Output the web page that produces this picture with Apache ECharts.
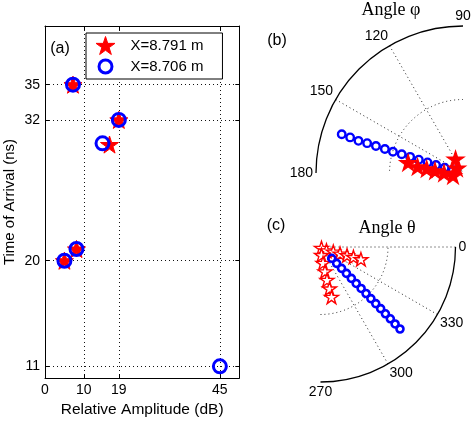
<!DOCTYPE html>
<html><head><meta charset="utf-8">
<script src="https://cdn.jsdelivr.net/npm/echarts@6/dist/echarts.min.js"></script>
<style>html,body{margin:0;padding:0;background:#fff}#c{width:474px;height:423px}</style>
</head><body><div id="c"></div>
<script>
// ---- panel (a) data ----
const xTicks = [0, 10, 19, 45];
const yTicks = [11, 20, 32, 35];
const starA = [[7.2, 35], [19, 32], [16.6, 29.9], [5, 20], [8.1, 21]];
const circA = [[7.2, 35], [19, 32], [14.8, 30], [5, 20], [8.1, 21], [45, 11]];
const seriesNames = ['X=8.791 m', 'X=8.706 m'];
// ---- panel (b) angle phi data (radius normalised, angle in degrees) ----
const phiTicks = [90, 120, 150, 180];
const circPhiR = [0.866, 0.805, 0.744, 0.683, 0.620, 0.556, 0.498, 0.436, 0.376, 0.314, 0.252, 0.191, 0.130, 0.072];
const circPhiA = [162.3, 162.5, 162.9, 162.7, 162.8, 162.9, 163.1, 163.0, 163.0, 163.2, 163.4, 163.6, 164.0, 165.0];
const starPhiR = [0.380, 0.312, 0.249, 0.191, 0.129, 0.070, 0.108, 0.053];
const starPhiA = [169.2, 172.1, 173.2, 175.5, 180.0, 194.0, 118.0, 140.0];
// ---- panel (c) angle theta data ----
const thetaTicks = [270, 300, 330, 360];
const circThetaR = [0.118, 0.170, 0.222, 0.274, 0.326, 0.378, 0.430, 0.482, 0.534, 0.586, 0.638, 0.690, 0.742, 0.794, 0.846];
const circThetaA = [314.7, 314.6, 314.6, 314.5, 314.5, 314.4, 314.4, 314.4, 314.3, 314.3, 314.3, 314.2, 314.2, 314.1, 314.1];
const starThetaR = [0.01, 0.051, 0.101, 0.153, 0.206, 0.255, 0.313, 0.060, 0.120, 0.184, 0.249, 0.315, 0.379];
const starThetaA = [315, 329.7, 339.8, 341.0, 342.6, 343.1, 343.1, 277.0, 279.0, 280.4, 281.1, 282.2, 282.4];

const SANS = 'Liberation Sans, Arial, sans-serif';
const SERIF = 'Liberation Serif, Times New Roman, serif';
const RED = '#ff0000', BLUE = '#0000ff';
const STAR = 'path://M50,0 L61.2,34.5 L97.6,34.5 L68.2,55.9 L79.4,90.5 L50,69.1 L20.6,90.5 L31.8,55.9 L2.4,34.5 L38.8,34.5 Z';
const CIRC_ICON = 'path://M0,0 M100,100 M14,50 A36,36 0 1 1 86,50 A36,36 0 1 1 14,50 Z';
const zip = (r, a) => r.map((v, i) => [v, a[i]]);
const dotted = { color: '#111', type: [1, 3], width: 1 };

const chart = echarts.init(document.getElementById('c'));
const boxAxis = (extra) => Object.assign({
  axisLine: { show: true, onZero: false, lineStyle: { color: '#000', width: 1 } },
  axisLabel: { show: false }, splitLine: { show: false }
}, extra);

chart.setOption({
  animation: false,
  backgroundColor: '#fff',
  textStyle: { fontFamily: SANS, color: '#000' },
  grid: [{ left: 45, top: 26, width: 194.3, height: 356.7, containLabel: false }],
  xAxis: [
    {
      gridIndex: 0, type: 'value', min: 0, max: 50, position: 'bottom',
      name: 'Relative Amplitude (dB)', nameLocation: 'middle', nameGap: 21,
      nameTextStyle: { fontSize: 15.5, color: '#000', fontFamily: SANS },
      axisLine: { show: true, onZero: false, lineStyle: { color: '#000', width: 1 } },
      axisTick: { show: true, inside: true, length: 4, customValues: xTicks, lineStyle: { color: '#000' } },
      axisLabel: { customValues: xTicks, color: '#000', fontSize: 14, margin: 5, fontFamily: SANS },
      splitLine: { show: true, lineStyle: dotted }
    },
    boxAxis({ gridIndex: 0, type: 'value', min: 0, max: 50, position: 'top',
      axisTick: { show: true, inside: true, length: 4, customValues: xTicks, lineStyle: { color: '#000' } } })
  ],
  yAxis: [
    {
      gridIndex: 0, type: 'value', min: 10, max: 40, position: 'left',
      name: 'Time of Arrival (ns)', nameLocation: 'middle', nameGap: 28,
      nameTextStyle: { fontSize: 15, color: '#000', fontFamily: SANS },
      axisLine: { show: true, onZero: false, lineStyle: { color: '#000', width: 1 } },
      axisTick: { show: true, inside: true, length: 4, customValues: yTicks, lineStyle: { color: '#000' } },
      axisLabel: { customValues: yTicks, color: '#000', fontSize: 14, margin: 5, fontFamily: SANS },
      splitLine: { show: true, lineStyle: dotted }
    },
    boxAxis({ gridIndex: 0, type: 'value', min: 10, max: 40, position: 'right',
      axisTick: { show: true, inside: true, length: 4, customValues: yTicks, lineStyle: { color: '#000' } } })
  ],
  polar: [
    { center: [463, 173], radius: 147 },
    { center: [320.5, 247], radius: 135 }
  ],
  angleAxis: [
    {
      polarIndex: 0, type: 'value', min: 90, max: 180, interval: 30,
      startAngle: 90, endAngle: 180, clockwise: false,
      axisLine: { show: true, lineStyle: { color: '#000', width: 1.3 } },
      axisTick: { show: false },
      axisLabel: { color: '#000', fontSize: 14, margin: 3, fontFamily: SANS },
      splitLine: { show: true, lineStyle: { color: ['rgba(0,0,0,0)', '#222', '#222', 'rgba(0,0,0,0)'], type: [1, 3], width: 1 } }
    },
    {
      polarIndex: 1, type: 'value', min: 270, max: 360, interval: 30,
      startAngle: -90, endAngle: 0, clockwise: false,
      axisLine: { show: true, lineStyle: { color: '#000', width: 1.3 } },
      axisTick: { show: false },
      axisLabel: { color: '#000', fontSize: 14, margin: 3, fontFamily: SANS, formatter: v => (v === 360 ? '0' : String(v)) },
      splitLine: { show: true, lineStyle: { color: ['rgba(0,0,0,0)', '#222', '#222', '#222'], type: [1, 3], width: 1 } }
    }
  ],
  radiusAxis: [
    { polarIndex: 0, type: 'value', min: 0, max: 1, interval: 0.5,
      axisLine: { show: false }, axisTick: { show: false }, axisLabel: { show: false },
      splitLine: { show: true, lineStyle: { color: ['rgba(0,0,0,0)', '#222', 'rgba(0,0,0,0)'], type: [1, 3], width: 1 } } },
    { polarIndex: 1, type: 'value', min: 0, max: 1, interval: 0.5,
      axisLine: { show: false }, axisTick: { show: false }, axisLabel: { show: false },
      splitLine: { show: true, lineStyle: { color: ['rgba(0,0,0,0)', '#222', 'rgba(0,0,0,0)'], type: [1, 3], width: 1 } } }
  ],
  legend: {
    orient: 'vertical', left: 86, top: 33,
    padding: [3, 19, 2, 9], itemGap: 1, itemWidth: 40, itemHeight: 18,
    backgroundColor: '#fff', borderColor: '#000', borderWidth: 1, borderRadius: 0,
    textStyle: { fontSize: 15, color: '#000', fontFamily: SANS },
    data: [
      { name: seriesNames[0], icon: STAR, itemStyle: { color: RED, borderColor: RED, borderWidth: 1 } },
      { name: seriesNames[1], icon: CIRC_ICON, itemStyle: { color: 'rgba(0,0,0,0)', borderColor: BLUE, borderWidth: 3 } }
    ]
  },
  graphic: [
    { type: 'text', x: 60, y: 49, style: { text: '(a)', font: '16px ' + SANS, fill: '#000', textAlign: 'center', textVerticalAlign: 'middle' } },
    { type: 'text', x: 277, y: 41, style: { text: '(b)', font: '16px ' + SANS, fill: '#000', textAlign: 'center', textVerticalAlign: 'middle' } },
    { type: 'text', x: 276, y: 226, style: { text: '(c)', font: '16px ' + SANS, fill: '#000', textAlign: 'center', textVerticalAlign: 'middle' } },
    { type: 'text', x: 391, y: 10, style: { text: 'Angle φ', font: '18px ' + SERIF, fill: '#000', textAlign: 'center', textVerticalAlign: 'middle' } },
    { type: 'text', x: 387, y: 228, style: { text: 'Angle θ', font: '18px ' + SERIF, fill: '#000', textAlign: 'center', textVerticalAlign: 'middle' } }
  ],
  series: [
    { name: seriesNames[0], type: 'scatter', xAxisIndex: 0, yAxisIndex: 0, data: starA, z: 2,
      symbol: STAR, symbolSize: 18, symbolKeepAspect: true,
      itemStyle: { color: RED, borderColor: RED, borderWidth: 1, opacity: 1 } },
    { name: seriesNames[1], type: 'scatter', xAxisIndex: 0, yAxisIndex: 0, data: circA, z: 3,
      symbol: 'circle', symbolSize: 13,
      itemStyle: { color: 'rgba(0,0,0,0)', borderColor: BLUE, borderWidth: 3, opacity: 1 } },
    { name: 'phi circles', type: 'scatter', coordinateSystem: 'polar', polarIndex: 0, data: zip(circPhiR, circPhiA), z: 2,
      symbol: 'circle', symbolSize: 7.5,
      itemStyle: { color: 'rgba(0,0,0,0)', borderColor: BLUE, borderWidth: 2.4, opacity: 1 } },
    { name: 'phi stars', type: 'scatter', coordinateSystem: 'polar', polarIndex: 0, data: zip(starPhiR, starPhiA), z: 3,
      symbol: STAR, symbolSize: 17, symbolKeepAspect: true,
      itemStyle: { color: RED, borderColor: RED, borderWidth: 1.2, opacity: 1 } },
    { name: 'theta stars', type: 'scatter', coordinateSystem: 'polar', polarIndex: 1, data: zip(starThetaR, starThetaA), z: 2,
      symbol: STAR, symbolSize: 14, symbolKeepAspect: true,
      itemStyle: { color: '#fff', borderColor: RED, borderWidth: 1.4, opacity: 1 } },
    { name: 'theta circles', type: 'scatter', coordinateSystem: 'polar', polarIndex: 1, data: zip(circThetaR, circThetaA), z: 3,
      symbol: 'circle', symbolSize: 7,
      itemStyle: { color: 'rgba(0,0,0,0)', borderColor: BLUE, borderWidth: 2.6, opacity: 1 } }
  ]
});
</script></body></html>
